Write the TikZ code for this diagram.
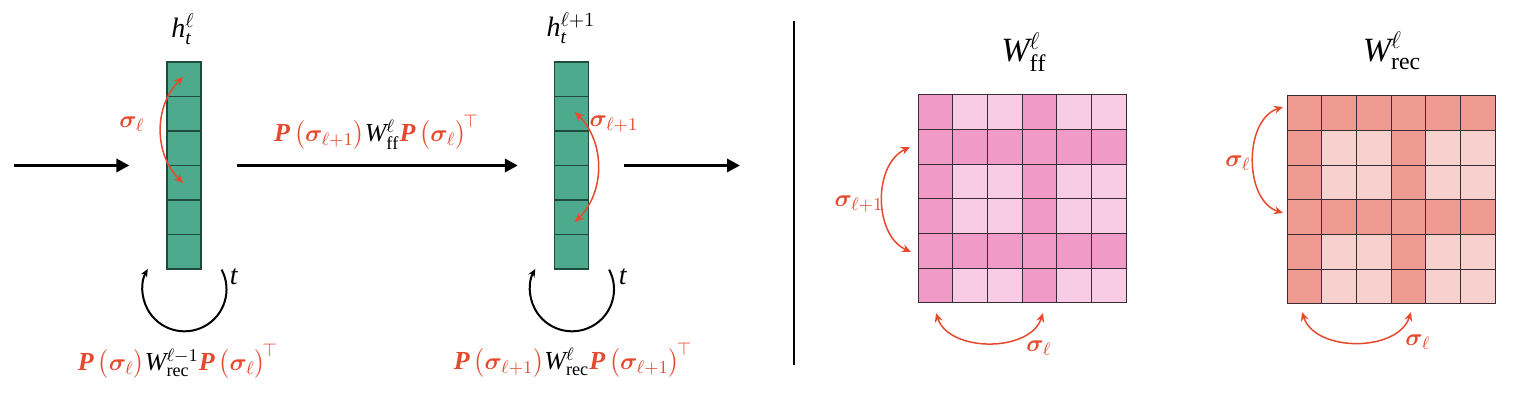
\documentclass[tikz,border=0pt]{standalone}
\usepackage{amsmath}
\usepackage{bm}
\usepackage{fontspec}
\setmainfont{Liberation Serif}
\usetikzlibrary{arrows.meta}
\definecolor{myred}{HTML}{E64A2E}
\definecolor{tealc}{HTML}{4DAA8C}
\definecolor{tealline}{HTML}{1F4A3E}
\definecolor{ffD}{HTML}{F09AC8}
\definecolor{ffL}{HTML}{F8CCE4}
\definecolor{recD}{HTML}{F09B91}
\definecolor{recL}{HTML}{F8D0CD}
\definecolor{gridc}{HTML}{3A2C34}
\newcommand{\PP}{\text{\bfseries\itshape P}\,}
\newcommand{\WW}{\mathit{W}}
\newcommand{\sg}{\bm{\sigma}}
\begin{document}
\begin{tikzpicture}[x=0.5pt,y=0.5pt,
  bigarrow/.style={-{Triangle[length=6.5pt,width=6.5pt]}, line width=1.6pt},
  perm/.style={{Stealth[length=4.5pt,width=4pt]}-{Stealth[length=4.5pt,width=4pt]}, draw=myred, line width=0.75pt},
  looparrow/.style={-{Stealth[length=4pt,width=3.5pt]}, line width=1pt},
  col/.style={draw=tealline, fill=tealc, line width=0.6pt, minimum width=17pt, minimum height=103.5pt, inner sep=0pt},
  mat/.style={draw=gridc, line width=0.5pt, minimum width=104pt, minimum height=104pt, inner sep=0pt},
  lab/.style={font=\fontsize{13}{19}\selectfont, inner sep=0pt},
  sig/.style={font=\fontsize{13}{16}\selectfont, text=myred, inner sep=0pt},
  hlab/.style={font=\fontsize{14}{17}\selectfont, inner sep=0pt},
  ttl/.style={font=\fontsize{17}{20}\selectfont, inner sep=0pt}]
\useasboundingbox (0,0) rectangle (1523,412);

% columns
\node[col] (h1) at (184,246.5) {};
\node[col] (h2) at (571.5,246.5) {};
\foreach \i in {1,...,5}{
  \draw[tealline, line width=0.7pt] (167,{143+\i*34.5}) -- (201,{143+\i*34.5});
  \draw[tealline, line width=0.7pt] (554,{143+\i*34.5}) -- (589,{143+\i*34.5});
}
\node[hlab] (hl1) at (183,383) {$\mathit{h}_{\mathit{t}}^{\ell}$};
\node[hlab] (hl2) at (571,384) {$\mathit{h}_{\mathit{t}}^{\ell+1}$};

% horizontal arrows
\coordinate (inL) at (14,246.5);
\coordinate (outR) at (740,246.5);
\draw[bigarrow, shorten >=18.5pt] (inL) -- (h1.west);
\draw[bigarrow, shorten <=17.5pt, shorten >=18pt] (h1.east) -- (h2.west);
\draw[bigarrow, shorten <=17.5pt] (h2.east) -- (outR);
\node[lab] (mid) at (376.5,280) {${\color{myred}\PP\bigl(\sg_{\ell+1}\bigr)}\WW^{\ell}_{\mathrm{ff}}{\color{myred}\PP\bigl(\sg_{\ell}\bigr)^{\!\top}}$};

% permutation arrows on columns
\coordinate (a1) at (183,335); \coordinate (b1) at (183,229);
\draw[perm] (a1) to[bend right=45] (b1);
\node[sig] (s1) at (132,288) {$\sg_{\ell}$};
\coordinate (a2) at (575,300); \coordinate (b2) at (575,190);
\draw[perm] (a2) to[bend left=45] (b2);
\node[sig] (s2) at (614,288) {$\sg_{\ell+1}$};

% loops
\draw[looparrow] ([xshift=10pt]h1.south east) arc[start angle=28, end angle=-209, radius=42];
\draw[looparrow] ([xshift=10pt]h2.south east) arc[start angle=28, end angle=-209, radius=42];
\node[sig, text=black, font=\fontsize{14}{16}\selectfont] (t1) at (234,135) {\textit{t}};
\node[sig, text=black, font=\fontsize{14}{16}\selectfont] (t2) at (623,135) {\textit{t}};
\node[lab] (bl1) at (178,51) {${\color{myred}\PP\bigl(\sg_{\ell}\bigr)}\WW^{\ell-1}_{\mathrm{rec}}{\color{myred}\PP\bigl(\sg_{\ell}\bigr)^{\!\top}}$};
\node[lab] (bl2) at (573,52) {${\color{myred}\PP\bigl(\sg_{\ell+1}\bigr)}\WW^{\ell}_{\mathrm{rec}}{\color{myred}\PP\bigl(\sg_{\ell+1}\bigr)^{\!\top}}$};

% separator
\coordinate (vt) at (794,391); \coordinate (vb) at (794,47);
\draw[line width=0.75pt] (vt) -- (vb);

% matrix W_ff
\foreach \r in {1,...,6}{\foreach \c in {1,...,6}{
  \pgfmathtruncatemacro{\dk}{or(mod(\r,3)==2, mod(\c,3)==1)}
  \ifnum\dk=1 \def\fc{ffD}\else\def\fc{ffL}\fi
  \fill[fill=\fc] ({918+(\c-1)*34.667},{317-(\r-1)*34.667}) rectangle ++(34.667,-34.667);
}}
\foreach \i in {1,...,5}{
  \draw[gridc, line width=0.5pt] ({918+\i*34.667},109) -- ({918+\i*34.667},317);
  \draw[gridc, line width=0.5pt] (918,{109+\i*34.667}) -- (1126,{109+\i*34.667});
}
\node[mat] (Wff) at (1022,213) {};
\node[ttl] (tff) at (1024,360) {$\WW^{\ell}_{\mathrm{ff}}$};

% matrix W_rec
\foreach \r in {1,...,6}{\foreach \c in {1,...,6}{
  \pgfmathtruncatemacro{\dk}{or(mod(\r,3)==1, mod(\c,3)==1)}
  \ifnum\dk=1 \def\fc{recD}\else\def\fc{recL}\fi
  \fill[fill=\fc] ({1287+(\c-1)*34.667},{316-(\r-1)*34.667}) rectangle ++(34.667,-34.667);
}}
\foreach \i in {1,...,5}{
  \draw[gridc, line width=0.5pt] ({1287+\i*34.667},108) -- ({1287+\i*34.667},316);
  \draw[gridc, line width=0.5pt] (1287,{108+\i*34.667}) -- (1495,{108+\i*34.667});
}
\node[mat] (Wrec) at (1391,212) {};
\node[ttl] (trec) at (1392,361) {$\WW^{\ell}_{\mathrm{rec}}$};

% permutation arrows on matrices
\coordinate (a3) at (910,265); \coordinate (b3) at (911,160);
\draw[perm] (a3) to[bend right=65] (b3);
\node[sig] (s3) at (859,208) {$\sg_{\ell+1}$};
\coordinate (a4) at (936,99); \coordinate (b4) at (1043,99);
\draw[perm] (a4) to[bend right=72] (b4);
\node[sig] (s4) at (1039,64) {$\sg_{\ell}$};
\coordinate (a5) at (1283,305); \coordinate (b5) at (1283,199);
\draw[perm] (a5) to[bend right=72] (b5);
\node[sig] (s5) at (1238,249) {$\sg_{\ell}$};
\coordinate (a6) at (1302,100); \coordinate (b6) at (1411,100);
\draw[perm] (a6) to[bend right=72] (b6);
\node[sig] (s6) at (1418,70) {$\sg_{\ell}$};
\end{tikzpicture}
\end{document}
